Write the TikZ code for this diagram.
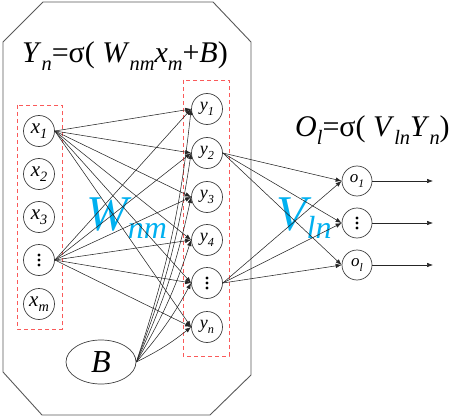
\documentclass[tikz,border=0pt]{standalone}
\usepackage{fontspec}
\setmainfont{Liberation Serif}
\usetikzlibrary{arrows.meta,shapes.geometric}
\definecolor{wblue}{RGB}{0,176,240}
\definecolor{boxred}{RGB}{250,90,90}
\newcommand{\sbs}[1]{\raisebox{-0.25em}{\scalebox{0.68}{#1}}}
\begin{document}
\begin{tikzpicture}[x=1pt,y=-1pt,
  neuron/.style={circle,draw=black!75,line width=0.7pt,minimum size=31pt,inner sep=0pt,font=\fontsize{21}{21}\selectfont\itshape},
  yneuron/.style={neuron,font=\fontsize{18}{18}\selectfont\itshape},
  oneuron/.style={neuron,minimum size=30pt,font=\fontsize{17}{17}\selectfont\itshape},
  conn/.style={draw=black!85,line width=0.55pt,-{Latex[length=6pt,width=4.5pt]}},
  dashbox/.style={draw=boxred,line width=0.8pt,dash pattern=on 4pt off 3pt},
  formula/.style={anchor=base west,inner sep=0pt,font=\fontsize{30}{30}\selectfont},
  bigblue/.style={anchor=base west,inner sep=0pt,text=wblue,font=\fontsize{50}{50}\selectfont\itshape},
  dotsfill/.style={fill=black}
]
\useasboundingbox (0,0) rectangle (463,417);
% octagon frame
\draw[black!65,line width=0.9pt] (43,2) -- (213,2) -- (251,42) -- (251,375) -- (210,415) -- (42,415) -- (3,372) -- (3,42) -- cycle;
% dashed boxes
\draw[dashbox] (17,105) rectangle (62,329);
\draw[dashbox] (183,80) rectangle (229,356);
% formulas
\node[formula] (f1) at (22,63) {\textit{Y}\sbs{\textit{n}}=σ( \textit{W}\sbs{\textit{nm}}\textit{x}\sbs{\textit{m}}+\textit{B})};
\node[formula] (f2) at (295,137) {\textit{O}\sbs{\textit{l}}=σ( \textit{V}\sbs{\textit{ln}}\textit{Y}\sbs{\textit{n}})};
% input nodes
\node[neuron] (x1) at (39,131) {x\sbs{1}};
\node[neuron] (x2) at (39,174) {x\sbs{2}};
\node[neuron] (x3) at (39,217) {x\sbs{3}};
\node[neuron] (xd) at (39,260) {};
\node[neuron] (xm) at (39,304) {x\sbs{m}};
% hidden nodes
\node[yneuron] (y1) at (207,109) {y\sbs{1}};
\node[yneuron] (y2) at (207,153) {y\sbs{2}};
\node[yneuron] (y3) at (207,197) {y\sbs{3}};
\node[yneuron] (y4) at (207,240) {y\sbs{4}};
\node[yneuron] (yd) at (207,283) {};
\node[yneuron] (yn) at (207,327) {y\sbs{n}};
% bias
\node[ellipse,draw=black!75,line width=0.7pt,minimum width=70pt,minimum height=44pt,inner sep=0pt,font=\fontsize{32}{32}\selectfont\itshape] (B) at (101,362) {B};
% output nodes
\node[oneuron] (o1) at (357,181) {o\sbs{1}};
\node[oneuron] (od) at (357,223) {};
\node[oneuron] (ol) at (357,265) {o\sbs{l}};
% vertical dots
\foreach \n in {xd,yd,od}{
  \fill[dotsfill] (\n) circle (1.6);
  \fill[dotsfill] ([yshift=-5pt]\n.center) circle (1.6);
  \fill[dotsfill] ([yshift=5pt]\n.center) circle (1.6);
}
% big blue labels
\node[bigblue] (W) at (86,230) {W\raisebox{-8pt}{\fontsize{32}{32}\selectfont nm}};
\node[bigblue] (V) at (276,230) {V\raisebox{-8pt}{\fontsize{32}{32}\selectfont ln}};
% connections input -> hidden
\foreach \s in {x1,xd}{
  \foreach \t in {y1,y2,y3,y4,yd,yn}{
    \draw[conn] (\s.east) -- (\t.west);
  }
}
\foreach \t in {y1,y2,y3,y4,yd,yn}{
  \draw[conn] (B.east) to[bend right=6] (\t.west);
}
% hidden -> output
\foreach \s in {y2,yd}{
  \foreach \t in {o1,od,ol}{
    \draw[conn] (\s.east) -- (\t.west);
  }
}
% outputs
\coordinate (e1) at (433,181);
\coordinate (e2) at (433,223);
\coordinate (e3) at (433,265);
\draw[conn] (o1.east) -- (e1);
\draw[conn] (od.east) -- (e2);
\draw[conn] (ol.east) -- (e3);
\end{tikzpicture}
\end{document}
